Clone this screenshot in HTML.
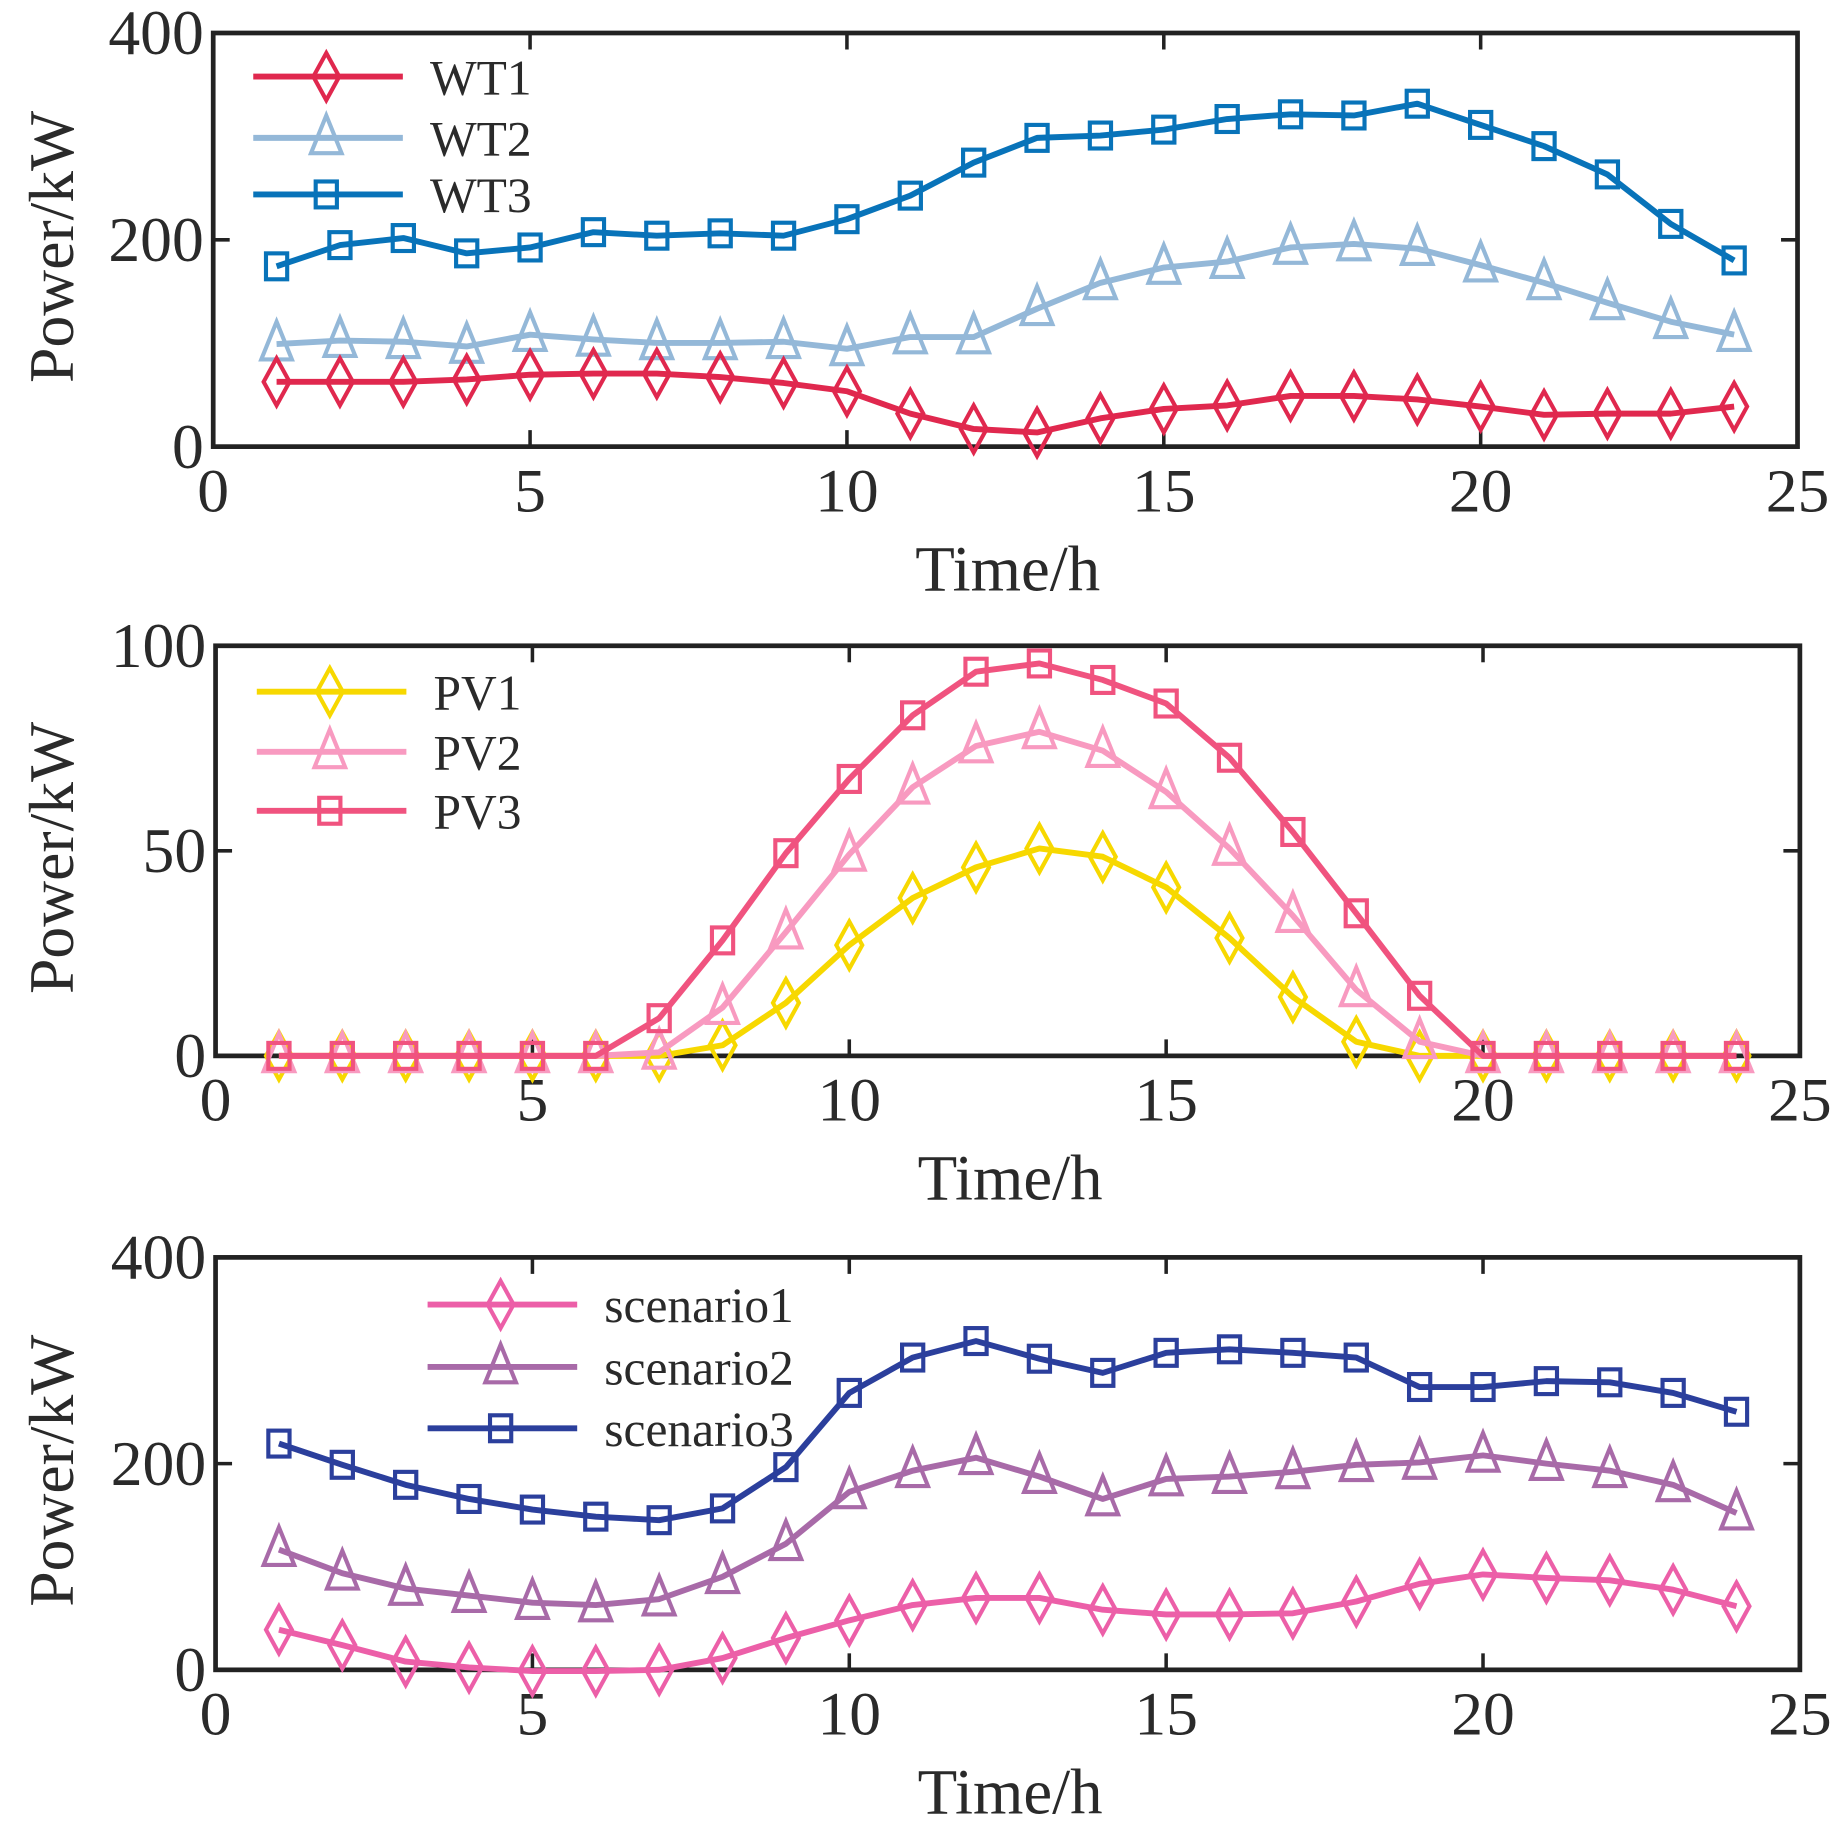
<!DOCTYPE html>
<html><head><meta charset="utf-8"><style>
html,body{margin:0;padding:0;background:#fff}
svg{display:block}
text{font-family:"Liberation Serif",serif;fill:#2a2a2a}
</style></head><body>
<svg id="s" width="1847" height="1836" viewBox="0 0 1568 1558" preserveAspectRatio="none" xmlns="http://www.w3.org/2000/svg"></svg>
<script>
const S=document.getElementById('s');let h='';
function mk(t,c,x,y){
 if(t=='d')return `<path d="M${x} ${y-20}L${x+11} ${y}L${x} ${y+20}L${x-11} ${y}Z" fill="none" stroke="${c}" stroke-width="3.5"/>`;
 if(t=='t')return `<path d="M${x} ${y-19}L${x+13} ${y+13}L${x-13} ${y+13}Z" fill="none" stroke="${c}" stroke-width="3.5"/>`;
 return `<rect x="${x-9}" y="${y-11}" width="18" height="22" fill="none" stroke="${c}" stroke-width="3.5"/>`;
}
function panel(x0,x1,yt,yb,ylabs,series,leg){
 const xs=i=>x0+(x1-x0)*i/25;
 h+=`<rect x="${x0}" y="${yt}" width="${x1-x0}" height="${yb-yt}" fill="none" stroke="#222" stroke-width="4"/>`;
 for(let k=0;k<=5;k++){const x=xs(k*5);
  h+=`<line x1="${x}" y1="${yt}" x2="${x}" y2="${yt+14}" stroke="#222" stroke-width="3"/><line x1="${x}" y1="${yb}" x2="${x}" y2="${yb-14}" stroke="#222" stroke-width="3"/>`;
  h+=`<text x="${x}" y="${yb+55}" font-size="52" text-anchor="middle" textLength="${k*5>=10?54:27}" lengthAdjust="spacingAndGlyphs">${k*5}</text>`;}
 ylabs.forEach((l,i)=>{const y=yb-(yb-yt)*i/(ylabs.length-1);
  h+=`<line x1="${x0}" y1="${y}" x2="${x0+14}" y2="${y}" stroke="#222" stroke-width="3"/><line x1="${x1}" y1="${y}" x2="${x1-14}" y2="${y}" stroke="#222" stroke-width="3"/>`;
  h+=`<text x="${x0-8}" y="${y+18}" font-size="54" text-anchor="end">${l}</text>`;});
 h+=`<text x="${(x0+x1)/2+2}" y="${yb+122}" font-size="55" text-anchor="middle">Time/h</text>`;
 h+=`<text transform="translate(62 ${(yt+yb)/2+6}) rotate(-90)" font-size="54" text-anchor="middle">Power/kW</text>`;
 series.forEach(s=>{const pts=s.y.map((y,i)=>[xs(i+1),y]);
  h+=`<polyline points="${pts.map(p=>p.join(',')).join(' ')}" fill="none" stroke="${s.c}" stroke-width="5" stroke-linejoin="round"/>`;
  pts.forEach(p=>h+=mk(s.m,s.c,p[0],p[1]));});
 leg.forEach(l=>{h+=`<line x1="${l.x}" y1="${l.y}" x2="${l.x+127}" y2="${l.y}" stroke="${l.c}" stroke-width="5"/>`+mk(l.m,l.c,l.x+62,l.y)+`<text x="${l.x+150}" y="${l.y+15}" font-size="42" fill="#111">${l.t}</text>`;});
}
const C1='#e0284e',C2='#94b8d8',C3='#0873b9';
panel(181,1526,28,379,['0','200','400'],[
 {c:C2,m:'t',y:[292,289,290,294,284,288,291,291,290,296,286,286,262,240,227,222,210,207,211,225,240,257,273,284]},
 {c:C1,m:'d',y:[324,324,324,322,318,317,317,320,325,332,351,364,367,355,347,344,336,336,339,345,352,351,351,345]},
 {c:C3,m:'s',y:[226,208,202,215,210,197,200,198,200,186,166,138,117,115,110,101,97,98,88,106,124,148,190,221]}],
 [{x:215,y:65,c:C1,m:'d',t:'WT1'},{x:215,y:117,c:C2,m:'t',t:'WT2'},{x:215,y:165,c:C3,m:'s',t:'WT3'}]);
const P1='#f7d800',P2='#f89ac0',P3='#f0537f';
const z6=[896,896,896,896,896,896];
panel(183,1528,548,896,['0','50','100'],[
 {c:P1,m:'d',y:[...z6,896,887,851,802,762,736,720,727,753,796,846,884,896,896,896,896,896,896]},
 {c:P2,m:'t',y:[...z6,893,855,791,725,668,633,621,637,672,720,777,840,884,896,896,896,896,896]},
 {c:P3,m:'s',y:[...z6,864,798,724,661,607,570,563,577,597,643,706,775,845,896,896,896,896,896]}],
 [{x:218,y:587,c:P1,m:'d',t:'PV1'},{x:218,y:638,c:P2,m:'t',t:'PV2'},{x:218,y:688,c:P3,m:'s',t:'PV3'}]);
const Q1='#ec5fa8',Q2='#a86aa8',Q3='#2b3f9c';
panel(183,1528,1067,1417,['0','200','400'],[
 {c:Q1,m:'d',y:[1383,1396,1410,1415,1418,1418,1417,1407,1390,1375,1362,1356,1356,1366,1370,1370,1369,1359,1344,1336,1339,1341,1349,1363]},
 {c:Q2,m:'t',y:[1315,1335,1348,1354,1360,1362,1357,1338,1310,1266,1248,1237,1253,1272,1255,1253,1249,1243,1241,1235,1242,1248,1260,1284]},
 {c:Q3,m:'s',y:[1225,1243,1260,1272,1281,1287,1290,1280,1245,1182,1152,1138,1153,1165,1148,1145,1148,1152,1177,1177,1172,1173,1182,1198]}],
 [{x:363,y:1107,c:Q1,m:'d',t:'scenario1'},{x:363,y:1160,c:Q2,m:'t',t:'scenario2'},{x:363,y:1212,c:Q3,m:'s',t:'scenario3'}]);
S.innerHTML=h;
</script>
</body></html>
